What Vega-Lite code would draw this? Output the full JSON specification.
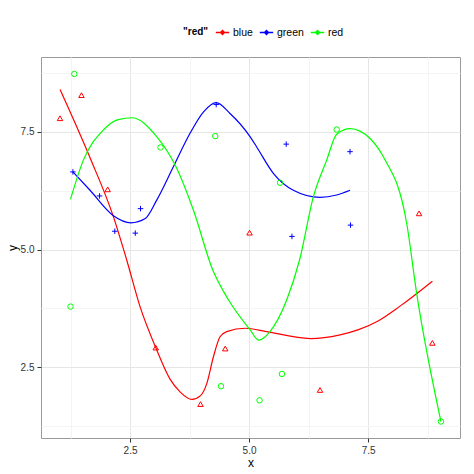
{
  "$schema": "https://vega.github.io/schema/vega-lite/v6.json",
  "width": 419,
  "height": 381,
  "autosize": {"type": "none"},
  "padding": {"left": 41, "top": 57, "right": 14, "bottom": 36},
  "background": "white",
  "config": {
    "font": "Liberation Sans",
    "view": {"stroke": "#9a9a9a", "strokeWidth": 1},
    "axis": {
      "domain": false,
      "labelFont": "Liberation Sans",
      "labelFontSize": 10,
      "labelColor": "#333333",
      "tickColor": "#333333",
      "tickSize": 4,
      "titleFont": "Liberation Sans",
      "titleFontSize": 12,
      "titleFontWeight": "normal",
      "titleColor": "#000000"
    }
  },
  "datasets": {
    "pts": [
      {"x": 1.03, "y": 7.79, "grp": "blue"},
      {"x": 1.48, "y": 8.28, "grp": "blue"},
      {"x": 2.03, "y": 6.28, "grp": "blue"},
      {"x": 3.04, "y": 2.92, "grp": "blue"},
      {"x": 3.98, "y": 1.72, "grp": "blue"},
      {"x": 4.50, "y": 2.90, "grp": "blue"},
      {"x": 5.01, "y": 5.36, "grp": "blue"},
      {"x": 6.49, "y": 2.02, "grp": "blue"},
      {"x": 8.57, "y": 5.77, "grp": "blue"},
      {"x": 8.85, "y": 3.02, "grp": "blue"},
      {"x": 1.30, "y": 6.65, "grp": "green"},
      {"x": 1.86, "y": 6.14, "grp": "green"},
      {"x": 2.18, "y": 5.39, "grp": "green"},
      {"x": 2.61, "y": 5.35, "grp": "green"},
      {"x": 2.72, "y": 5.87, "grp": "green"},
      {"x": 4.31, "y": 8.08, "grp": "green"},
      {"x": 5.78, "y": 7.24, "grp": "green"},
      {"x": 5.90, "y": 5.28, "grp": "green"},
      {"x": 7.12, "y": 7.08, "grp": "green"},
      {"x": 7.13, "y": 5.52, "grp": "green"},
      {"x": 1.33, "y": 8.73, "grp": "red"},
      {"x": 1.25, "y": 3.79, "grp": "red"},
      {"x": 3.14, "y": 7.17, "grp": "red"},
      {"x": 4.29, "y": 7.41, "grp": "red"},
      {"x": 4.41, "y": 2.10, "grp": "red"},
      {"x": 5.22, "y": 1.80, "grp": "red"},
      {"x": 5.69, "y": 2.36, "grp": "red"},
      {"x": 5.65, "y": 6.42, "grp": "red"},
      {"x": 6.84, "y": 7.55, "grp": "red"},
      {"x": 9.03, "y": 1.35, "grp": "red"}
    ],
    "fit": [
      {"x": 1.03, "y": 8.40, "grp": "blue"},
      {"x": 1.66, "y": 6.95, "grp": "blue"},
      {"x": 2.15, "y": 5.70, "grp": "blue"},
      {"x": 2.43, "y": 4.78, "grp": "blue"},
      {"x": 2.71, "y": 3.79, "grp": "blue"},
      {"x": 3.04, "y": 2.92, "grp": "blue"},
      {"x": 3.34, "y": 2.25, "grp": "blue"},
      {"x": 3.55, "y": 1.98, "grp": "blue"},
      {"x": 3.80, "y": 1.82, "grp": "blue"},
      {"x": 3.98, "y": 1.90, "grp": "blue"},
      {"x": 4.11, "y": 2.15, "grp": "blue"},
      {"x": 4.25, "y": 2.72, "grp": "blue"},
      {"x": 4.39, "y": 3.15, "grp": "blue"},
      {"x": 4.53, "y": 3.26, "grp": "blue"},
      {"x": 4.92, "y": 3.33, "grp": "blue"},
      {"x": 5.37, "y": 3.26, "grp": "blue"},
      {"x": 6.07, "y": 3.13, "grp": "blue"},
      {"x": 6.30, "y": 3.11, "grp": "blue"},
      {"x": 6.91, "y": 3.19, "grp": "blue"},
      {"x": 7.30, "y": 3.30, "grp": "blue"},
      {"x": 7.70, "y": 3.48, "grp": "blue"},
      {"x": 8.17, "y": 3.80, "grp": "blue"},
      {"x": 8.85, "y": 4.33, "grp": "blue"},
      {"x": 1.30, "y": 6.65, "grp": "green"},
      {"x": 1.66, "y": 6.26, "grp": "green"},
      {"x": 2.15, "y": 5.72, "grp": "green"},
      {"x": 2.52, "y": 5.57, "grp": "green"},
      {"x": 2.82, "y": 5.66, "grp": "green"},
      {"x": 3.06, "y": 6.05, "grp": "green"},
      {"x": 3.41, "y": 6.76, "grp": "green"},
      {"x": 3.76, "y": 7.47, "grp": "green"},
      {"x": 4.04, "y": 7.92, "grp": "green"},
      {"x": 4.31, "y": 8.12, "grp": "green"},
      {"x": 4.60, "y": 7.89, "grp": "green"},
      {"x": 5.02, "y": 7.40, "grp": "green"},
      {"x": 5.16, "y": 7.18, "grp": "green"},
      {"x": 5.51, "y": 6.62, "grp": "green"},
      {"x": 5.93, "y": 6.26, "grp": "green"},
      {"x": 6.49, "y": 6.11, "grp": "green"},
      {"x": 6.84, "y": 6.16, "grp": "green"},
      {"x": 7.12, "y": 6.26, "grp": "green"},
      {"x": 1.25, "y": 6.07, "grp": "red"},
      {"x": 1.52, "y": 6.90, "grp": "red"},
      {"x": 1.94, "y": 7.54, "grp": "red"},
      {"x": 2.25, "y": 7.76, "grp": "red"},
      {"x": 2.54, "y": 7.80, "grp": "red"},
      {"x": 3.06, "y": 7.40, "grp": "red"},
      {"x": 3.45, "y": 6.79, "grp": "red"},
      {"x": 3.83, "y": 5.84, "grp": "red"},
      {"x": 4.24, "y": 4.56, "grp": "red"},
      {"x": 4.57, "y": 3.93, "grp": "red"},
      {"x": 5.02, "y": 3.30, "grp": "red"},
      {"x": 5.20, "y": 3.08, "grp": "red"},
      {"x": 5.44, "y": 3.26, "grp": "red"},
      {"x": 5.79, "y": 3.93, "grp": "red"},
      {"x": 6.06, "y": 4.78, "grp": "red"},
      {"x": 6.35, "y": 6.12, "grp": "red"},
      {"x": 6.63, "y": 6.90, "grp": "red"},
      {"x": 6.84, "y": 7.45, "grp": "red"},
      {"x": 7.12, "y": 7.57, "grp": "red"},
      {"x": 7.54, "y": 7.36, "grp": "red"},
      {"x": 7.82, "y": 6.97, "grp": "red"},
      {"x": 8.31, "y": 5.56, "grp": "red"},
      {"x": 8.52, "y": 4.07, "grp": "red"},
      {"x": 9.03, "y": 1.35, "grp": "red"}
    ]
  },
  "encoding": {
    "x": {
      "field": "x", "type": "quantitative",
      "scale": {"domain": [0.63, 9.43], "nice": false, "zero": false},
      "axis": {
        "title": "x",
        "values": [1.25, 2.5, 3.75, 5, 6.25, 7.5, 8.75],
        "labelExpr": "datum.value % 2.5 === 0 ? format(datum.value, '.1f') : ''",
        "tickOpacity": {"condition": {"test": "datum.value % 2.5 === 0", "value": 1}, "value": 0},
        "gridColor": {"condition": {"test": "datum.value % 2.5 === 0", "value": "#e6e6e6"}, "value": "#f4f4f4"},
        "titlePadding": 2,
        "labelPadding": 3
      }
    },
    "y": {
      "field": "y", "type": "quantitative",
      "scale": {"domain": [1.0, 9.09], "nice": false, "zero": false},
      "axis": {
        "title": "y",
        "values": [1.25, 2.5, 3.75, 5, 6.25, 7.5, 8.75],
        "labelExpr": "datum.value % 2.5 === 0 ? format(datum.value, '.1f') : ''",
        "tickOpacity": {"condition": {"test": "datum.value % 2.5 === 0", "value": 1}, "value": 0},
        "gridColor": {"condition": {"test": "datum.value % 2.5 === 0", "value": "#e6e6e6"}, "value": "#f4f4f4"},
        "titlePadding": 1,
        "labelPadding": 3
      }
    },
    "color": {
      "field": "grp", "type": "nominal",
      "scale": {"domain": ["blue", "green", "red"], "range": ["#FF0000", "#0000FF", "#00FF00"]},
      "legend": {
        "title": "\"red\"",
        "orient": "none",
        "legendX": 142,
        "legendY": -32,
        "direction": "horizontal",
        "titleOrient": "left",
        "titleFontWeight": "bold",
        "titleFontSize": 10,
        "titleColor": "#000000",
        "titlePadding": 6,
        "labelFontSize": 10.5,
        "labelColor": "#000000",
        "labelOffset": 3,
        "columnPadding": 4,
        "symbolType": "M-1,0H1M-0.3,0L0,-0.3L0.3,0L0,0.3Z",
        "symbolSize": 180,
        "symbolStrokeWidth": 1.3
      }
    }
  },
  "layer": [
    {
      "data": {"name": "fit"},
      "mark": {"type": "line", "interpolate": "monotone", "strokeWidth": 1.2},
      "encoding": {"detail": {"field": "grp"}}
    },
    {
      "data": {"name": "pts"},
      "mark": {"type": "point", "filled": false, "strokeWidth": 1, "size": 30, "opacity": 1},
      "encoding": {
        "shape": {
          "field": "grp", "type": "nominal",
          "scale": {"domain": ["red", "blue", "green"], "range": ["circle", "triangle-up", "M-1,0H1M0,-1V1"]},
          "legend": null
        }
      }
    }
  ]
}
